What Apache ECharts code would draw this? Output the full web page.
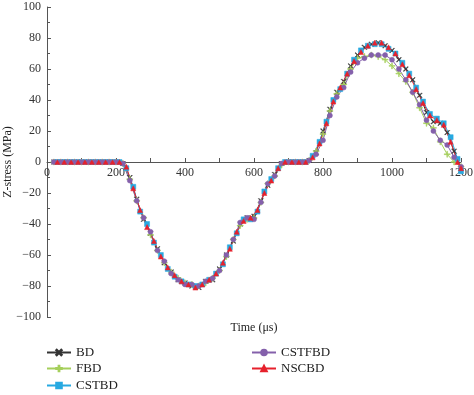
<!DOCTYPE html>
<html><head><meta charset="utf-8">
<script src="https://cdn.jsdelivr.net/npm/echarts@6/dist/echarts.min.js"></script>
<style>html,body{margin:0;padding:0;background:#fff}#c{width:474px;height:395px}</style>
</head><body><div id="c"></div>
<script>
// Time grids (µs)
const timesEven = [20,40,60,80,100,120,140,160,180,200,220,240,260,280,300,320,340,360,380,400,420,440,460,480,500,520,540,560,580,600,620,640,660,680,700,720,740,760,780,800,820,840,860,880,900,920,940,960,980,1000,1020,1040,1060,1080,1100,1120,1140,1160,1180,1200];
const timesOdd = [30,50,70,90,110,130,150,170,190,210,230,250,270,290,310,330,350,370,390,410,430,450,470,490,510,530,550,570,590,610,630,650,670,690,710,730,750,770,790,810,830,850,870,890,910,930,950,970,990,1010,1030,1050,1070,1090,1110,1130,1150,1170,1190,1200];
// Z-stress values (MPa)
const BD = [0,0,0,0,0,0,0,0,0,0,-1,-10,-24,-37,-46,-56,-65,-71,-76,-78,-80,-81,-77,-76,-69,-60,-51,-40,-36,-35,-25,-15,-8,-1,0,0,0,1,6,20,34,45,52,62,69,74,76,77,75,72,66,60,53,43,32,26,25,19,7,-4];
const FBD = [0,0,0,0,0,0,0,0,0,0,-1,-11,-25,-36,-47,-57,-65,-71,-75,-78,-79,-80,-78,-75,-70,-61,-50,-41,-37,-36,-26,-14,-9,-2,0,0,0,1,7,18,33,44,50,60,67,68,69,68,66,62,57,52,45,35,25,22,13,5,0,-3];
const CSTBD = [0,0,0,0,0,0,0,0,0,0,-4,-16,-32,-40,-52,-60,-69,-74,-77,-79,-80,-79,-76,-72,-66,-55,-46,-37,-37,-32,-19,-11,-4,0,0,0,0,4,13,26,40,47,57,66,72,75,76,76,73,70,64,57,48,39,31,28,25,16,2,-6];
const CSTFBD = [0,0,0,0,0,0,0,0,0,0,-1,-12,-25,-36,-45,-57,-64,-72,-76,-79,-79,-80,-77,-75,-70,-60,-50,-39,-36,-37,-26,-14,-9,-1,0,0,0,1,5,14,30,42,48,58,64,67,69,69,69,66,60,53,45,37,27,20,14,11,3,-3];
const NSCBD = [0,0,0,0,0,0,0,0,0,0,-3,-17,-31,-42,-51,-61,-68,-73,-77,-79,-81,-79,-76,-72,-65,-56,-45,-38,-36,-31,-20,-12,-4,0,0,0,0,3,12,25,39,48,57,65,71,75,77,77,74,70,63,56,47,38,30,27,24,13,0,-4];
const names = ['BD','FBD','CSTBD','CSTFBD','NSCBD'];

const FONT = 'Liberation Serif';
const xSym = 'path://M1,0L5,4L9,0L10,1L6,5L10,9L9,10L5,6L1,10L0,9L4,5L0,1Z';
const plusSym = 'path://M4.3,0H5.7V4.3H10V5.7H5.7V10H4.3V5.7H0V4.3H4.3Z';

function pairs(ts, vs){ return ts.map((t,i)=>[t, vs[i]]); }
function mk(name, ts, vs, color, symbol, size){
  return {name, type:'line', data:pairs(ts,vs), symbol, symbolSize:size, showAllSymbol:true,
    lineStyle:{color, width:1}, itemStyle:{color, borderColor:color, borderWidth:0.5}, z: 2};
}
const legendPos = [[46,346],[46,362],[46,379],[251,346],[251,362]];
const legends = names.map((n,i)=>({data:[n], orient:'vertical', left:legendPos[i][0], top:legendPos[i][1],
  itemWidth:24, itemHeight:7, padding:0, textStyle:{fontFamily:FONT, fontSize:13, color:'#222'}}));

const chart = echarts.init(document.getElementById('c'), null, {renderer:'canvas'});
const minus = v => String(v).replace('-', '\u2212');
chart.setOption({
  animation:false,
  backgroundColor:'#fff',
  textStyle:{fontFamily:FONT},
  grid:{left:47, right:13, top:7, bottom:78, containLabel:false, outerBoundsMode:'none'},
  xAxis:{type:'value', min:0, max:1200, interval:200, position:'bottom', offset:-155,
    name:'Time (\u03bcs)', nameLocation:'middle', nameGap:160, nameMoveOverlap:false,
    nameTextStyle:{fontFamily:FONT, fontSize:12, color:'#222', verticalAlign:'top'},
    axisLine:{onZero:false, lineStyle:{color:'#555', width:1}},
    axisTick:{show:true, inside:true, length:4, lineStyle:{color:'#555'}},
    minorTick:{show:true, splitNumber:2, length:4, lineStyle:{color:'#555'}},
    axisLabel:{fontFamily:FONT, fontSize:12, color:'#333', margin:5, formatter:minus},
    splitLine:{show:false}},
  yAxis:{type:'value', min:-100, max:100, interval:20,
    name:'Z-stress (MPa)', nameLocation:'middle', nameGap:33, nameMoveOverlap:false,
    nameTextStyle:{fontFamily:FONT, fontSize:12, color:'#222'},
    axisLine:{show:true, lineStyle:{color:'#555', width:1}},
    axisTick:{show:true, inside:true, length:4, lineStyle:{color:'#555'}},
    minorTick:{show:true, splitNumber:2, length:3, lineStyle:{color:'#555'}},
    axisLabel:{fontFamily:FONT, fontSize:12, color:'#333', margin:6, formatter:minus},
    splitLine:{show:false}},
  legend:legends,
  series:[
    mk('BD', timesEven, BD, '#333333', xSym, 5),
    mk('FBD', timesEven, FBD, '#a5cf5b', plusSym, 6),
    mk('CSTBD', timesOdd, CSTBD, '#27a9e1', 'rect', 5),
    mk('CSTFBD', timesEven, CSTFBD, '#8460ab', 'circle', 5),
    mk('NSCBD', timesOdd, NSCBD, '#e6212c', 'triangle', 5)
  ]
});
</script></body></html>
